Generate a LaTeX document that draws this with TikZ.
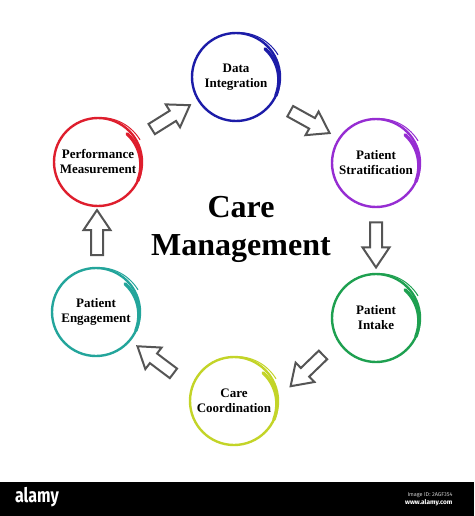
\documentclass[tikz,border=0pt]{standalone}
\usepackage{fontspec}
\setmainfont{Liberation Serif}
\newfontfamily\wmfont{Fira Sans}
\usetikzlibrary{shapes.arrows,calc}

\definecolor{dataBlue}{RGB}{28,28,168}
\definecolor{stratPurple}{RGB}{150,45,210}
\definecolor{intakeGreen}{RGB}{30,160,80}
\definecolor{coordLime}{RGB}{195,212,40}
\definecolor{engageTeal}{RGB}{35,165,155}
\definecolor{perfRed}{RGB}{222,30,45}
\definecolor{arrowGray}{RGB}{85,85,85}

\begin{document}
\begin{tikzpicture}[x=1pt,y=-1pt,
  ring/.style={circle, draw=#1, line width=2.4pt, minimum size=88pt, inner sep=0pt, align=center, font=\fontsize{13}{15}\selectfont\bfseries},
  blockarrow/.style={single arrow, draw=arrowGray, fill=white, line width=2pt, minimum height=45pt, minimum width=0pt, inner sep=5pt, single arrow head extend=7.5pt, single arrow tip angle=68}]
\useasboundingbox (0,0) rectangle (474,516);

% the six steps
\node[ring=dataBlue] (dat) at (236,77) {Data\\Integration};
\node[ring=stratPurple] (str) at (376,163) {Patient\\Stratification};
\node[ring=intakeGreen] (itk) at (376,318) {Patient\\Intake};
\node[ring=coordLime] (crd) at (234,401) {Care\\Coordination};
\node[ring=engageTeal] (eng) at (96,312) {Patient\\Engagement};
\node[ring=perfRed] (prf) at (98,162) {Performance\\Measurement};

% brush ends of the rings
\foreach \n/\col in {dat/dataBlue,str/stratPurple,itk/intakeGreen,crd/coordLime,eng/engageTeal,prf/perfRed} {
  \begin{scope}[shift={(\n.center)}, color=\col]
    \draw[line width=3.4pt, line cap=round] plot[domain=-44:25, samples=30] ({(40.5+3.5*(\x+44)/69)*cos(\x)}, {(40.5+3.5*(\x+44)/69)*sin(\x)});
    \draw[line width=1pt, line cap=round] plot[domain=-95:-28, samples=30] ({(44+3.5*(\x+95)/67)*cos(\x)}, {(44+3.5*(\x+95)/67)*sin(\x)});
  \end{scope}
}

\node[font=\fontsize{32}{38}\selectfont\bfseries, align=center] (title) at (241,229) {Care\\Management};

% arrows between the steps
\node[blockarrow, rotate=32] (a1) at ($(prf)!0.5!(dat)$) {};
\node[blockarrow, rotate=-29] (a2) at ($(dat)!0.5!(str)$) {};
\node[blockarrow, rotate=-90] (a3) at ($(str)!0.5!(itk)$) {};
\node[blockarrow, rotate=-136] (a4) at ($(itk)!0.5!(crd)+(5,8)$) {};
\node[blockarrow, rotate=143] (a5) at ($(crd)!0.5!(eng)+(-6,6)$) {};
\node[blockarrow, rotate=90] (a6) at ($(eng)!0.5!(prf)$) {};

% stock banner
\fill[black] (0,482) rectangle (474,516);
\node[text=white, font=\wmfont\bfseries\fontsize{20}{20}\selectfont, xscale=0.8] (logo) at (37,497) {alamy};
\node[text=white!80!black, font=\wmfont\fontsize{5.5}{6}\selectfont, anchor=east] (imgid) at (456,495) {Image ID: 2AGF354};
\node[text=white, font=\wmfont\bfseries\fontsize{6.5}{7}\selectfont, anchor=east] (site) at (456,503) {www.alamy.com};
\end{tikzpicture}
\end{document}
